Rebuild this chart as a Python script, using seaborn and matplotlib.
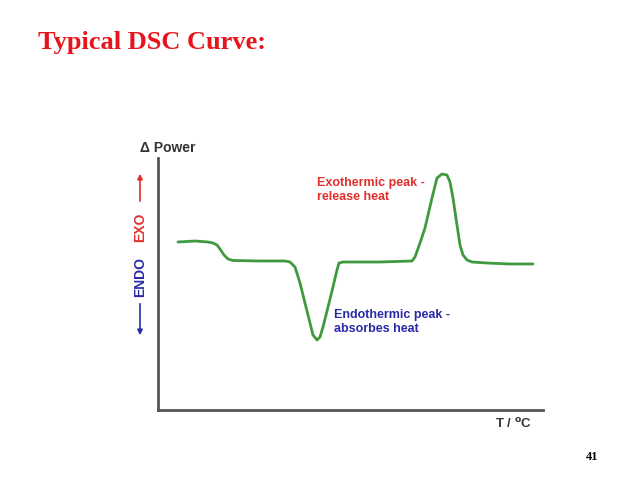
import numpy as np
import pandas as pd
import matplotlib
matplotlib.use('Agg')
import matplotlib.pyplot as plt
import seaborn as sns

# curve (T and power in arbitrary units, 0-100)
temperature = [5.19, 9.61, 12.99, 14.29, 15.32, 16.10, 17.14, 18.18, 19.48, 26.49,
               32.99, 34.29, 35.58, 36.88, 38.18, 39.48, 40.26, 41.30, 42.08, 42.86,
               44.16, 45.45, 46.49, 47.01, 48.05, 57.66, 65.97, 66.75, 68.05, 69.35,
               71.17, 72.47, 73.77, 75.06, 75.84, 76.62, 77.66, 78.44, 79.22, 80.26,
               81.56, 85.45, 91.43, 97.40]
power = [66.67, 67.06, 66.67, 66.27, 65.48, 63.89, 61.51, 59.92, 59.33, 59.13,
         59.13, 58.73, 56.75, 50.40, 42.46, 34.52, 29.76, 27.78, 28.97, 32.94,
         40.87, 48.81, 55.56, 58.33, 58.73, 58.73, 59.13, 60.71, 66.27, 72.22,
         84.13, 92.06, 93.65, 93.25, 90.48, 84.13, 73.41, 65.48, 61.51, 59.52,
         58.73, 58.33, 57.94, 57.94]

df = pd.DataFrame({'T': temperature, 'Power': power})

sns.set_style('white')
plt.rcParams['font.family'] = ['Liberation Sans', 'DejaVu Sans']

fig = plt.figure(figsize=(6.38, 4.78), dpi=100)
W, H = 638, 478
ax = fig.add_axes([158 / W, 1 - 410 / H, (543 - 158) / W, (410 - 158) / H])

sns.lineplot(data=df, x='T', y='Power', sort=False, estimator=None,
             color='#3f9a3f', linewidth=2, ax=ax,
             solid_joinstyle='round', solid_capstyle='round')
ax.set_xlim(0, 100)
ax.set_ylim(0, 100)
ax.set_xticks([])
ax.set_yticks([])
ax.set_xlabel('')
ax.set_ylabel('')
for side in ['top', 'right']:
    ax.spines[side].set_visible(False)
for side in ['left', 'bottom']:
    ax.spines[side].set_color('#555555')
    ax.spines[side].set_linewidth(2)


def px(x, y):
    return x / W, 1 - y / H


fig.text(*px(38, 43), 'Typical DSC Curve:', color='#e8141c', fontsize=19,
         fontweight='bold', family='Liberation Serif', va='center', ha='left')
fig.text(*px(140, 148), '\u0394 Power', color='#333333', fontsize=10,
         fontweight='bold', va='center', ha='left')
fig.text(*px(495, 424), 'T / $^{\\mathbf{o}}$C', color='#333333', fontsize=9.5,
         fontweight='bold', va='center', ha='left')
fig.text(*px(592, 457), '41', color='black', fontsize=9,
         fontweight='bold', family='Liberation Serif', va='center', ha='center')

fig.text(*px(317, 190), 'Exothermic peak -\nrelease heat', color='#e0302c',
         fontsize=9, fontweight='bold', va='center', ha='left', linespacing=1.15)
fig.text(*px(334, 322), 'Endothermic peak -\nabsorbes heat', color='#2a2aa8',
         fontsize=9, fontweight='bold', va='center', ha='left', linespacing=1.15)

# EXO / ENDO side labels with arrows
fig.text(*px(140, 227), 'EXO', color='#e0302c', fontsize=10, fontweight='bold',
         rotation=90, va='center', ha='center')
fig.text(*px(140, 277), 'ENDO', color='#2a2aa8', fontsize=10, fontweight='bold',
         rotation=90, va='center', ha='center')
fig.add_artist(matplotlib.patches.FancyArrowPatch(
    px(140, 204), px(140, 171), transform=fig.transFigure,
    arrowstyle='-|>,head_length=3,head_width=1.5', color='#e0302c', lw=1.2))
fig.add_artist(matplotlib.patches.FancyArrowPatch(
    px(140, 301), px(140, 338), transform=fig.transFigure,
    arrowstyle='-|>,head_length=3,head_width=1.5', color='#2a2aa8', lw=1.2))

fig.savefig('out.png', dpi=100)
